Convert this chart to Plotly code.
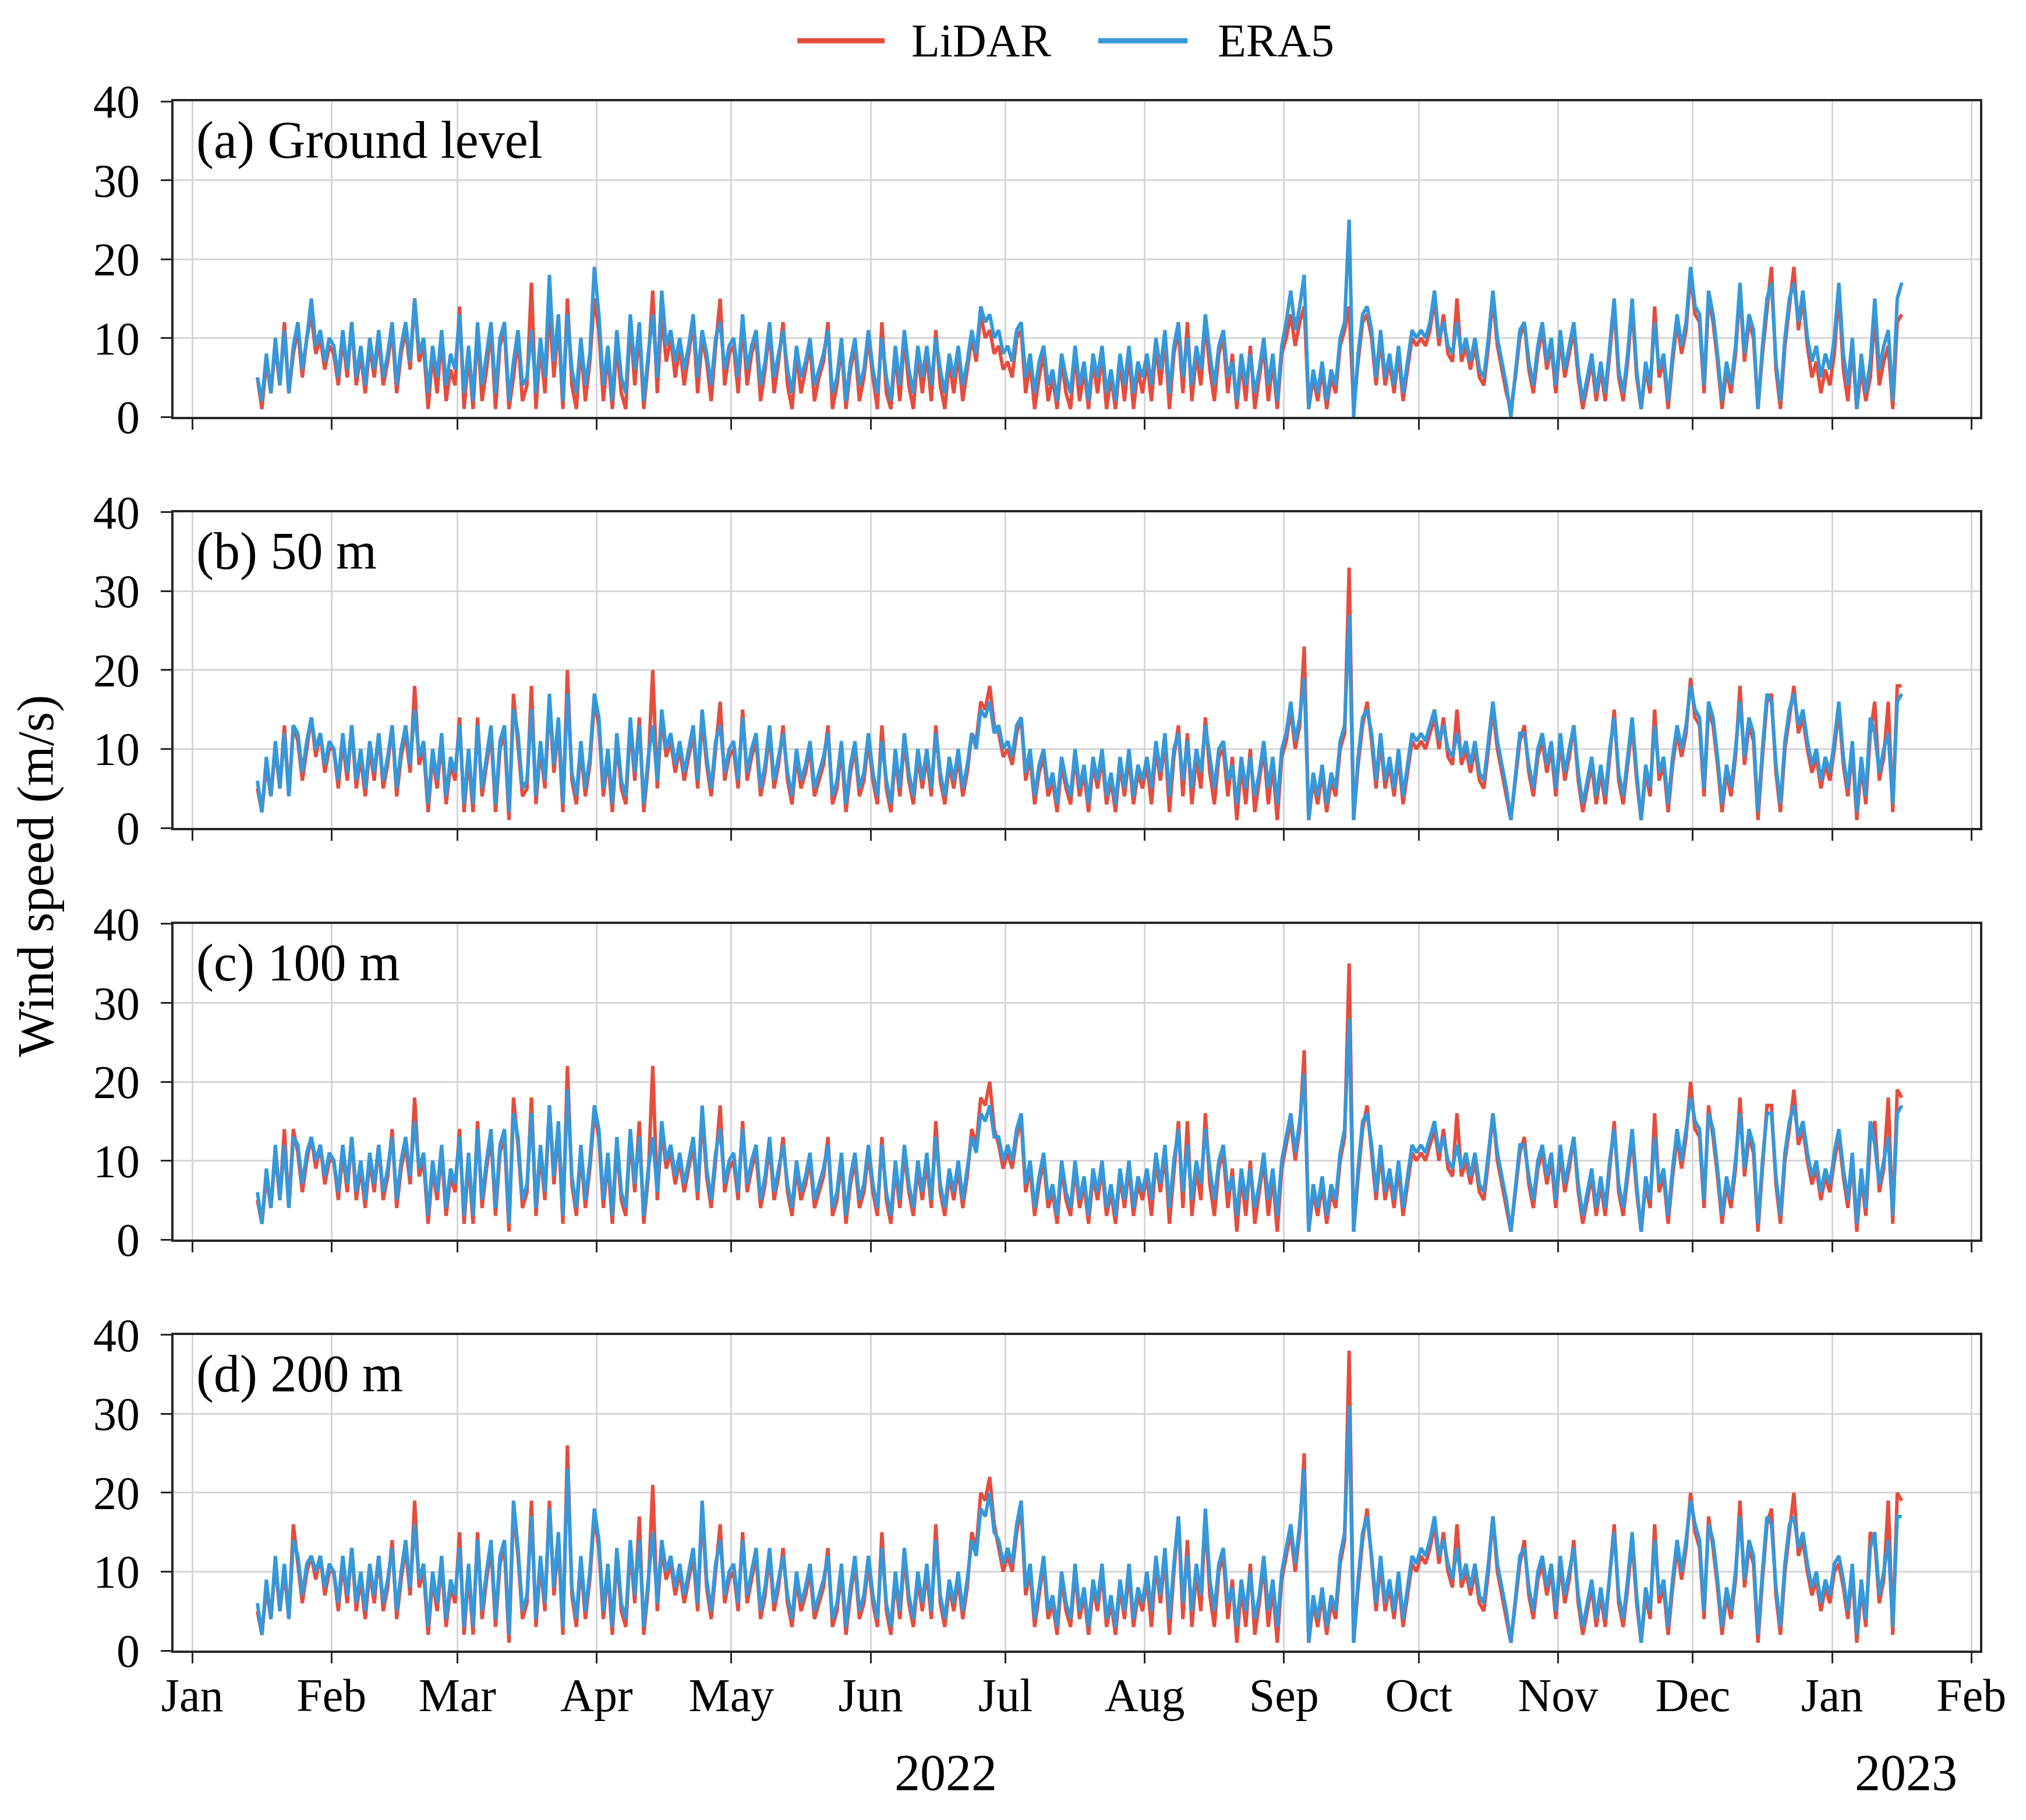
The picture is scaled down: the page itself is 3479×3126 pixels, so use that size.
import pandas as pd
import plotly.graph_objects as go

# ---------------- data (daily values, m/s) ----------------
start_date = "2022-01-15 12:00"

month_ticks = ["2022-01-01", "2022-02-01", "2022-03-01", "2022-04-01", "2022-05-01",
               "2022-06-01", "2022-07-01", "2022-08-01", "2022-09-01", "2022-10-01",
               "2022-11-01", "2022-12-01", "2023-01-01", "2023-02-01"]
month_labels = ["Jan", "Feb", "Mar", "Apr", "May", "Jun", "Jul", "Aug", "Sep", "Oct",
                "Nov", "Dec", "Jan", "Feb"]
y_ticks = [0, 10, 20, 30, 40]
panel_labels = ["(a) Ground level", "(b) 50 m", "(c) 100 m", "(d) 200 m"]
year_labels = ["2022", "2023"]
series_names = ["LiDAR", "ERA5"]

lidar_ground = [
    5, 1, 7, 3, 9, 4, 12, 3, 8, 11, 5, 10, 13, 8, 10, 6, 9,
    8, 4, 10, 5, 12, 4, 8, 3, 9, 5, 10, 4, 7, 11, 3, 8, 11, 6, 15, 7, 9, 1, 8, 3, 10, 2, 6, 4,
    14, 1, 8, 1, 11, 2, 6, 11, 1, 9, 11, 1, 5, 10, 2, 4, 17, 1, 9, 3, 14, 5, 12, 1, 15, 4, 1, 9, 2, 7, 15,
    11, 2, 8, 1, 9, 3, 1, 12, 4, 11, 1, 7, 16, 3, 13, 7, 10, 5, 9, 4, 8, 12, 3, 10, 7, 2, 9, 15, 4, 8,
    9, 3, 12, 4, 8, 10, 2, 6, 11, 3, 7, 12, 4, 1, 8, 3, 6, 9, 2, 5, 7, 12, 1, 4, 9, 1, 6, 9, 2, 5, 10,
    5, 1, 12, 3, 1, 8, 2, 10, 4, 1, 8, 3, 8, 2, 11, 4, 1, 7, 3, 8, 2, 6, 10, 7, 13, 10, 11, 8, 9, 6,
    7, 5, 10, 11, 3, 7, 1, 5, 8, 2, 5, 1, 7, 3, 1, 8, 2, 6, 1, 7, 3, 8, 1, 5, 1, 7, 2, 8, 1, 6, 3,
    7, 2, 9, 4, 10, 1, 8, 11, 3, 12, 2, 8, 4, 12, 6, 2, 8, 10, 3, 8, 1, 7, 2, 9, 1, 5, 9, 2, 7, 1, 8,
    10, 13, 9, 12, 14, 1, 5, 2, 6, 1, 5, 3, 9, 11, 14, 1, 7, 12, 13, 10, 4, 10, 4, 7, 3, 8, 2, 6, 10, 9,
    10, 9, 11, 15, 9, 13, 8, 7, 15, 7, 9, 6, 9, 5, 4, 9, 15, 9, 6, 3, 1, 5, 10, 12, 6, 3, 8, 11, 6, 9, 3,
    10, 5, 8, 11, 5, 1, 4, 7, 2, 6, 2, 8, 14, 5, 2, 7, 14, 5, 1, 6, 3, 14, 5, 7, 1, 7, 12, 8, 11, 18,
    13, 12, 3, 15, 12, 7, 1, 6, 3, 8, 16, 7, 12, 10, 1, 8, 14, 19, 6, 1, 9, 14, 19, 11, 15, 9, 5, 7, 3, 6, 4,
    8, 16, 6, 2, 9, 1, 6, 2, 5, 13, 4, 7, 9, 1, 12, 13,
]
era5_ground = [
    5, 2, 8, 3, 10, 4, 11, 3, 9, 12, 6, 10, 15, 9, 11, 7, 10,
    9, 5, 11, 6, 12, 5, 9, 4, 10, 6, 11, 5, 8, 12, 4, 9, 12, 7, 15, 8, 10, 3, 9, 5, 11, 4, 8, 6,
    13, 3, 9, 2, 12, 4, 8, 12, 3, 10, 12, 2, 7, 11, 4, 5, 11, 3, 10, 5, 18, 7, 13, 2, 13, 6, 3, 10, 4, 8, 19,
    13, 4, 9, 2, 11, 5, 3, 13, 6, 12, 2, 8, 13, 5, 16, 9, 11, 7, 10, 6, 9, 13, 5, 11, 8, 4, 10, 12, 6, 9,
    10, 5, 13, 6, 9, 11, 4, 7, 12, 5, 8, 11, 6, 3, 9, 5, 7, 10, 4, 6, 8, 11, 3, 5, 10, 2, 7, 10, 4, 6, 11,
    6, 3, 10, 5, 2, 9, 4, 11, 6, 3, 9, 5, 9, 4, 10, 6, 3, 8, 5, 9, 4, 7, 11, 8, 14, 12, 13, 10, 11, 8,
    9, 7, 11, 12, 5, 8, 3, 7, 9, 4, 6, 2, 8, 5, 3, 9, 4, 7, 2, 8, 5, 9, 3, 6, 2, 8, 4, 9, 3, 7, 5,
    8, 4, 10, 6, 11, 3, 9, 12, 5, 10, 4, 9, 6, 13, 8, 4, 9, 11, 5, 7, 2, 8, 4, 8, 3, 6, 10, 4, 8, 2, 9,
    12, 16, 11, 14, 18, 1, 6, 3, 7, 2, 6, 4, 10, 12, 25, 0, 8, 13, 14, 11, 5, 11, 5, 8, 4, 9, 3, 7, 11, 10,
    11, 10, 12, 16, 10, 12, 9, 8, 12, 8, 10, 7, 10, 6, 5, 10, 16, 10, 7, 4, 0, 6, 11, 12, 7, 4, 9, 12, 7, 10, 4,
    11, 6, 9, 12, 6, 2, 5, 8, 3, 7, 3, 9, 15, 6, 3, 8, 15, 6, 1, 7, 4, 12, 6, 8, 2, 8, 13, 9, 12, 19,
    14, 13, 4, 16, 13, 8, 2, 7, 4, 9, 17, 8, 13, 11, 1, 9, 15, 17, 7, 2, 10, 15, 17, 12, 16, 10, 7, 9, 5, 8, 6,
    10, 17, 8, 4, 10, 1, 8, 3, 7, 15, 6, 9, 11, 2, 15, 17,
]
lidar_50m = [
    5, 2, 8, 4, 10, 5, 13, 4, 13, 11, 6, 10, 14, 9, 12, 7, 10,
    10, 5, 11, 6, 13, 5, 9, 4, 10, 6, 12, 5, 8, 13, 4, 9, 12, 7, 18, 8, 10, 2, 9, 5, 11, 3, 8, 6,
    14, 2, 9, 2, 14, 4, 8, 12, 2, 10, 12, 1, 17, 11, 4, 5, 18, 3, 10, 5, 16, 7, 13, 2, 20, 6, 3, 10, 4, 8, 16,
    13, 4, 9, 2, 11, 5, 3, 13, 6, 14, 2, 8, 20, 5, 14, 9, 11, 7, 10, 6, 9, 12, 5, 14, 8, 4, 10, 16, 6, 9,
    10, 5, 15, 6, 9, 11, 4, 7, 12, 5, 8, 13, 6, 3, 9, 5, 7, 10, 4, 6, 8, 13, 3, 5, 10, 2, 7, 10, 4, 6, 11,
    6, 3, 13, 5, 2, 9, 4, 11, 6, 3, 9, 5, 9, 4, 13, 6, 3, 8, 5, 9, 4, 7, 12, 11, 16, 15, 18, 13, 12, 9,
    10, 8, 12, 14, 6, 9, 3, 7, 9, 4, 6, 2, 8, 5, 3, 9, 4, 7, 2, 8, 5, 9, 3, 6, 2, 8, 4, 9, 3, 7, 5,
    8, 3, 10, 6, 11, 2, 9, 13, 4, 12, 3, 9, 5, 14, 7, 3, 9, 10, 4, 9, 1, 8, 3, 10, 2, 6, 10, 3, 8, 1, 9,
    11, 15, 10, 13, 23, 1, 6, 3, 7, 2, 6, 4, 10, 12, 33, 1, 8, 13, 16, 11, 5, 11, 5, 8, 4, 9, 3, 7, 11, 10,
    11, 10, 12, 14, 10, 14, 9, 8, 15, 8, 10, 7, 10, 6, 5, 10, 15, 10, 7, 4, 1, 6, 11, 13, 7, 4, 9, 11, 7, 10, 4,
    11, 6, 9, 13, 6, 2, 5, 8, 3, 7, 3, 9, 15, 6, 3, 8, 13, 6, 1, 7, 4, 15, 6, 8, 2, 8, 12, 9, 12, 19,
    14, 13, 4, 15, 13, 8, 2, 7, 4, 9, 18, 8, 13, 11, 1, 9, 16, 17, 7, 2, 10, 14, 18, 12, 14, 10, 7, 9, 5, 8, 6,
    10, 15, 8, 4, 10, 1, 8, 3, 12, 16, 6, 9, 16, 2, 18, 18,
]
era5_50m = [
    6, 2, 9, 4, 11, 5, 12, 4, 13, 12, 7, 11, 14, 10, 12, 8, 11,
    10, 6, 12, 7, 13, 6, 10, 5, 11, 7, 12, 6, 9, 13, 5, 10, 13, 8, 15, 9, 11, 3, 10, 6, 12, 4, 9, 7,
    13, 3, 10, 3, 13, 5, 9, 13, 3, 11, 13, 2, 15, 12, 5, 6, 15, 4, 11, 6, 17, 8, 14, 3, 17, 7, 4, 11, 5, 9, 17,
    14, 5, 10, 3, 12, 6, 4, 14, 7, 13, 3, 9, 13, 6, 15, 10, 12, 8, 11, 7, 10, 13, 6, 15, 9, 5, 11, 13, 7, 10,
    11, 6, 14, 7, 10, 12, 5, 8, 13, 6, 9, 12, 7, 4, 10, 6, 8, 11, 5, 7, 9, 12, 4, 6, 11, 3, 8, 11, 5, 7, 12,
    7, 4, 11, 6, 3, 10, 5, 12, 7, 4, 10, 6, 10, 5, 12, 7, 4, 9, 6, 10, 5, 8, 12, 10, 15, 14, 16, 12, 13, 10,
    11, 9, 13, 14, 7, 10, 4, 8, 10, 5, 7, 3, 9, 6, 4, 10, 5, 8, 3, 9, 6, 10, 4, 7, 3, 9, 5, 10, 4, 8, 6,
    9, 5, 11, 7, 12, 4, 10, 12, 6, 11, 5, 10, 7, 13, 9, 5, 10, 11, 6, 8, 3, 9, 5, 9, 4, 7, 11, 5, 9, 3, 10,
    12, 16, 11, 14, 19, 1, 7, 4, 8, 3, 7, 5, 11, 13, 27, 1, 9, 14, 15, 12, 6, 12, 6, 9, 5, 10, 4, 8, 12, 11,
    12, 11, 13, 15, 11, 13, 10, 9, 12, 9, 11, 8, 11, 7, 6, 11, 16, 11, 8, 5, 1, 7, 12, 12, 8, 5, 10, 12, 8, 11, 5,
    12, 7, 10, 13, 7, 3, 6, 9, 4, 8, 4, 10, 14, 7, 4, 9, 14, 7, 1, 8, 5, 13, 7, 9, 3, 9, 13, 10, 13, 18,
    15, 14, 5, 16, 14, 9, 3, 8, 5, 10, 16, 9, 14, 12, 2, 10, 17, 16, 8, 3, 11, 15, 17, 13, 15, 11, 8, 10, 6, 9, 7,
    11, 16, 9, 5, 11, 2, 9, 4, 14, 12, 7, 10, 12, 3, 16, 17,
]
lidar_100m = [
    5, 2, 8, 4, 11, 5, 14, 4, 14, 11, 6, 10, 13, 9, 12, 7, 10,
    10, 5, 11, 6, 13, 5, 9, 4, 10, 6, 12, 5, 8, 14, 4, 9, 12, 7, 18, 8, 10, 2, 9, 5, 11, 3, 8, 6,
    14, 2, 10, 2, 15, 4, 9, 13, 3, 11, 13, 1, 18, 12, 4, 6, 18, 3, 11, 5, 17, 7, 14, 2, 22, 7, 3, 11, 4, 9, 16,
    13, 4, 10, 2, 12, 5, 3, 13, 6, 15, 2, 8, 22, 5, 14, 9, 11, 7, 10, 6, 9, 12, 5, 16, 8, 4, 10, 17, 6, 9,
    10, 5, 15, 6, 9, 11, 4, 7, 12, 5, 8, 13, 6, 3, 9, 5, 7, 10, 4, 6, 8, 13, 3, 5, 10, 2, 7, 10, 4, 6, 11,
    6, 3, 13, 5, 2, 9, 4, 11, 6, 3, 9, 5, 10, 4, 15, 6, 3, 8, 5, 9, 4, 8, 14, 12, 18, 17, 20, 14, 12, 9,
    11, 9, 13, 15, 6, 9, 3, 7, 10, 4, 6, 2, 9, 5, 3, 9, 4, 7, 2, 8, 5, 9, 3, 6, 2, 8, 4, 9, 3, 7, 5,
    8, 3, 10, 6, 11, 2, 9, 15, 4, 15, 3, 9, 5, 16, 7, 3, 9, 11, 4, 9, 1, 8, 3, 10, 2, 6, 10, 3, 8, 1, 9,
    12, 15, 10, 14, 24, 1, 6, 3, 7, 2, 6, 4, 10, 13, 35, 1, 8, 14, 17, 11, 5, 11, 5, 8, 4, 9, 3, 7, 11, 10,
    11, 10, 12, 14, 10, 14, 9, 8, 16, 8, 10, 7, 10, 6, 5, 10, 16, 10, 7, 4, 1, 6, 11, 13, 7, 4, 9, 11, 7, 10, 4,
    11, 6, 9, 13, 6, 2, 5, 8, 3, 7, 3, 9, 15, 6, 3, 8, 13, 6, 1, 7, 4, 16, 6, 8, 2, 8, 13, 9, 13, 20,
    14, 13, 4, 17, 13, 8, 2, 7, 4, 9, 18, 8, 13, 11, 1, 9, 17, 17, 7, 2, 10, 14, 19, 12, 14, 10, 7, 9, 5, 8, 6,
    10, 13, 8, 4, 10, 1, 8, 3, 13, 15, 6, 9, 18, 2, 19, 18,
]
era5_100m = [
    6, 2, 9, 4, 12, 5, 12, 4, 13, 12, 7, 11, 13, 10, 12, 8, 11,
    10, 6, 12, 7, 13, 6, 10, 5, 11, 7, 12, 6, 9, 13, 5, 10, 13, 8, 15, 9, 11, 3, 10, 6, 12, 4, 9, 7,
    13, 3, 11, 3, 14, 5, 10, 14, 4, 12, 14, 2, 16, 13, 5, 7, 16, 4, 12, 6, 17, 8, 15, 3, 19, 8, 4, 12, 5, 10, 17,
    14, 5, 11, 3, 13, 6, 4, 14, 7, 13, 3, 9, 13, 6, 15, 10, 12, 8, 11, 7, 10, 13, 6, 17, 9, 5, 11, 14, 7, 10,
    11, 6, 14, 7, 10, 12, 5, 8, 13, 6, 9, 12, 7, 4, 10, 6, 8, 11, 5, 7, 9, 12, 4, 6, 11, 3, 8, 11, 5, 7, 12,
    7, 4, 12, 6, 3, 10, 5, 12, 7, 4, 10, 6, 11, 5, 13, 7, 4, 9, 6, 10, 5, 9, 13, 11, 16, 15, 17, 13, 13, 10,
    12, 10, 14, 16, 7, 10, 4, 8, 11, 5, 7, 3, 10, 6, 4, 10, 5, 8, 3, 9, 6, 10, 4, 7, 3, 9, 5, 10, 4, 8, 6,
    9, 5, 11, 7, 12, 4, 10, 14, 6, 12, 5, 10, 7, 14, 9, 5, 10, 12, 6, 8, 3, 9, 5, 9, 4, 7, 11, 5, 9, 3, 10,
    13, 16, 11, 15, 21, 1, 7, 4, 8, 3, 7, 5, 11, 14, 28, 1, 9, 15, 16, 12, 6, 12, 6, 9, 5, 10, 4, 8, 12, 11,
    12, 11, 13, 15, 11, 13, 10, 9, 12, 9, 11, 8, 11, 7, 6, 11, 16, 11, 8, 5, 1, 7, 12, 12, 8, 5, 10, 12, 8, 11, 5,
    12, 7, 10, 13, 7, 3, 6, 9, 4, 8, 4, 10, 14, 7, 4, 9, 14, 7, 1, 8, 5, 13, 7, 9, 3, 9, 14, 10, 14, 18,
    15, 14, 5, 16, 14, 9, 3, 8, 5, 10, 16, 9, 14, 12, 2, 10, 16, 16, 8, 3, 11, 15, 17, 13, 15, 11, 8, 10, 6, 9, 7,
    11, 14, 9, 5, 11, 2, 9, 4, 15, 12, 7, 10, 13, 3, 16, 17,
]
lidar_200m = [
    5, 2, 8, 4, 11, 5, 10, 4, 16, 11, 6, 10, 12, 9, 12, 7, 10,
    10, 5, 11, 6, 13, 5, 9, 4, 10, 6, 12, 5, 8, 14, 4, 9, 13, 7, 19, 8, 10, 2, 9, 5, 11, 3, 8, 6,
    15, 2, 10, 2, 15, 4, 9, 13, 3, 11, 13, 1, 18, 12, 4, 6, 19, 3, 11, 5, 19, 7, 14, 2, 26, 7, 3, 11, 4, 9, 17,
    13, 4, 10, 2, 12, 5, 3, 13, 6, 17, 2, 8, 21, 5, 13, 9, 11, 7, 10, 6, 9, 12, 5, 18, 8, 4, 10, 16, 6, 9,
    10, 5, 15, 6, 9, 12, 4, 7, 12, 5, 8, 13, 6, 3, 9, 5, 7, 10, 4, 6, 8, 13, 3, 5, 10, 2, 7, 11, 4, 6, 11,
    6, 3, 15, 5, 2, 9, 4, 12, 6, 3, 9, 5, 10, 4, 16, 6, 3, 8, 5, 9, 4, 8, 15, 13, 20, 19, 22, 16, 13, 10,
    12, 10, 15, 18, 7, 10, 3, 7, 11, 4, 6, 2, 9, 5, 3, 10, 4, 7, 2, 8, 5, 10, 3, 6, 2, 8, 4, 10, 3, 7, 5,
    9, 3, 11, 6, 12, 2, 10, 17, 4, 14, 3, 10, 5, 17, 7, 3, 10, 12, 4, 9, 1, 8, 3, 11, 2, 6, 11, 3, 8, 1, 9,
    12, 15, 10, 15, 25, 1, 6, 3, 7, 2, 6, 4, 11, 14, 38, 1, 8, 14, 18, 11, 5, 11, 5, 8, 4, 9, 3, 7, 11, 10,
    12, 11, 13, 16, 11, 15, 10, 8, 16, 8, 10, 7, 10, 6, 5, 10, 17, 10, 7, 4, 1, 6, 11, 14, 7, 4, 9, 11, 7, 10, 4,
    11, 6, 9, 14, 6, 2, 5, 8, 3, 7, 3, 9, 16, 6, 3, 8, 14, 6, 1, 7, 4, 16, 6, 8, 2, 8, 13, 9, 13, 20,
    15, 13, 4, 17, 13, 8, 2, 7, 4, 9, 19, 8, 13, 11, 1, 9, 16, 18, 7, 2, 10, 15, 20, 12, 14, 10, 7, 9, 5, 8, 6,
    10, 11, 8, 4, 10, 1, 8, 3, 15, 14, 6, 9, 19, 2, 20, 19,
]
era5_200m = [
    6, 2, 9, 4, 12, 5, 11, 4, 14, 12, 7, 11, 12, 10, 12, 8, 11,
    10, 6, 12, 7, 13, 6, 10, 5, 11, 7, 12, 6, 9, 13, 5, 10, 14, 8, 16, 9, 11, 3, 10, 6, 12, 4, 9, 7,
    13, 3, 11, 3, 14, 5, 10, 14, 4, 12, 14, 2, 19, 13, 5, 7, 17, 4, 12, 6, 18, 8, 15, 3, 23, 8, 4, 12, 5, 10, 18,
    14, 5, 11, 3, 13, 6, 4, 14, 7, 14, 3, 9, 15, 6, 14, 10, 12, 8, 11, 7, 10, 13, 6, 19, 9, 5, 11, 14, 7, 10,
    11, 6, 14, 7, 10, 13, 5, 8, 13, 6, 9, 12, 7, 4, 10, 6, 8, 11, 5, 7, 9, 12, 4, 6, 11, 3, 8, 12, 5, 7, 12,
    7, 4, 13, 6, 3, 10, 5, 13, 7, 4, 10, 6, 11, 5, 14, 7, 4, 9, 6, 10, 5, 9, 14, 12, 18, 17, 20, 15, 14, 11,
    13, 11, 16, 19, 8, 11, 4, 8, 12, 5, 7, 3, 10, 6, 4, 11, 5, 8, 3, 9, 6, 11, 4, 7, 3, 9, 5, 11, 4, 8, 6,
    10, 5, 12, 7, 13, 4, 11, 17, 6, 12, 5, 11, 7, 18, 9, 5, 11, 13, 6, 8, 3, 9, 5, 10, 4, 7, 12, 5, 9, 3, 10,
    13, 16, 11, 16, 23, 1, 7, 4, 8, 3, 7, 5, 12, 15, 31, 1, 9, 15, 17, 12, 6, 12, 6, 9, 5, 10, 4, 8, 12, 11,
    13, 12, 14, 17, 12, 14, 11, 9, 13, 9, 11, 8, 11, 7, 6, 11, 17, 11, 8, 5, 1, 7, 12, 13, 8, 5, 10, 12, 8, 11, 5,
    12, 7, 10, 13, 7, 3, 6, 9, 4, 8, 4, 10, 15, 7, 4, 9, 15, 7, 1, 8, 5, 14, 7, 9, 3, 9, 14, 10, 14, 19,
    16, 14, 5, 16, 14, 9, 3, 8, 5, 10, 17, 9, 14, 12, 2, 10, 17, 16, 8, 3, 11, 16, 17, 13, 15, 11, 8, 10, 6, 9, 7,
    11, 12, 9, 5, 11, 2, 9, 4, 13, 15, 7, 10, 14, 3, 17, 17,
]

lidar_series = [lidar_ground, lidar_50m, lidar_100m, lidar_200m]
era5_series = [era5_ground, era5_50m, era5_100m, era5_200m]

# ---------------- style ----------------
FONT = "Liberation Serif, Times New Roman, serif"
RED = "#e74c3c"
BLUE = "#3498db"
AXIS_COLOR = "#262626"
GRID_COLOR = "#d6d6d6"

W, H = 3479, 3126
M_L, M_R, M_T, M_B = 298, 79, 174, 291
domains = [[0.7963, 1.0], [0.531, 0.7347], [0.2653, 0.469], [0.0, 0.2037]]

fig = go.Figure()
for i in range(4):
    sfx = "" if i == 0 else str(i + 1)
    xs_l = pd.date_range(start_date, periods=len(lidar_series[i]), freq="D")
    xs_e = pd.date_range(start_date, periods=len(era5_series[i]), freq="D")
    fig.add_trace(go.Scatter(x=xs_l, y=lidar_series[i], mode="lines", name=series_names[0],
                             line=dict(color=RED, width=6), showlegend=False,
                             xaxis="x" + sfx, yaxis="y" + sfx))
    fig.add_trace(go.Scatter(x=xs_e, y=era5_series[i], mode="lines", name=series_names[1],
                             line=dict(color=BLUE, width=6), showlegend=False,
                             xaxis="x" + sfx, yaxis="y" + sfx))

layout = dict(
    width=W, height=H,
    margin=dict(l=M_L, r=M_R, t=M_T, b=M_B),
    paper_bgcolor="white", plot_bgcolor="white",
    font=dict(family=FONT, size=80, color="black"),
    showlegend=False,
    annotations=[],
    shapes=[],
)

for i in range(4):
    sfx = "" if i == 0 else str(i + 1)
    layout["xaxis" + sfx] = dict(
        type="date", domain=[0, 1], anchor="y" + sfx,
        range=["2021-12-27 20:00", "2023-02-02 22:00"],
        tickmode="array", tickvals=month_ticks, ticktext=month_labels,
        showticklabels=(i == 3), ticks="outside", ticklen=18, tickwidth=3,
        tickcolor=AXIS_COLOR, showgrid=True, gridcolor=GRID_COLOR, gridwidth=3,
        showline=True, linecolor=AXIS_COLOR, linewidth=4, mirror=True,
        tickfont=dict(family=FONT, size=80), ticklabelstandoff=-14,
        zeroline=False,
        matches=None if i == 0 else "x",
    )
    layout["yaxis" + sfx] = dict(
        domain=domains[i], anchor="x" + sfx, range=[0, 40],
        tickmode="array", tickvals=y_ticks, ticktext=[str(v) for v in y_ticks],
        ticks="outside", ticklen=18, tickwidth=3, tickcolor=AXIS_COLOR,
        showgrid=True, gridcolor=GRID_COLOR, gridwidth=3,
        showline=True, linecolor=AXIS_COLOR, linewidth=4, mirror=True,
        tickfont=dict(family=FONT, size=80), ticklabelstandoff=20, zeroline=False,
    )
    layout["annotations"].append(dict(
        text=panel_labels[i], xref="x" + sfx + " domain", yref="y" + sfx + " domain",
        x=0.012, y=0.876, xanchor="left", yanchor="middle", showarrow=False,
        font=dict(family=FONT, size=90, color="black")))

# legend (drawn as key lines + labels above the top panel)
legend_y = 1.0391
legend_keys = [(0.3453, 0.3936, RED, 0.4078), (0.5119, 0.5613, BLUE, 0.5774)]
for (x0, x1, col, tx), name in zip(legend_keys, series_names):
    layout["shapes"].append(dict(type="line", xref="paper", yref="paper",
                                 x0=x0, x1=x1, y0=legend_y, y1=legend_y,
                                 line=dict(color=col, width=9)))
    layout["annotations"].append(dict(
        text=name, xref="paper", yref="paper", x=tx, y=legend_y,
        xanchor="left", yanchor="middle", showarrow=False,
        font=dict(family=FONT, size=80, color="black")))

layout["annotations"].append(dict(
    text="Wind speed (m/s)", xref="paper", yref="paper", x=-0.0761, y=0.5,
    xanchor="center", yanchor="middle", textangle=-90, showarrow=False,
    font=dict(family=FONT, size=88, color="black")))
layout["annotations"].append(dict(
    text=year_labels[0], xref="paper", yref="paper", x=0.4275, y=-0.0789,
    xanchor="center", yanchor="middle", showarrow=False,
    font=dict(family=FONT, size=88, color="black")))
layout["annotations"].append(dict(
    text=year_labels[1], xref="paper", yref="paper", x=0.959, y=-0.0789,
    xanchor="center", yanchor="middle", showarrow=False,
    font=dict(family=FONT, size=88, color="black")))

fig.update_layout(**layout)
fig.write_html("out.html")
